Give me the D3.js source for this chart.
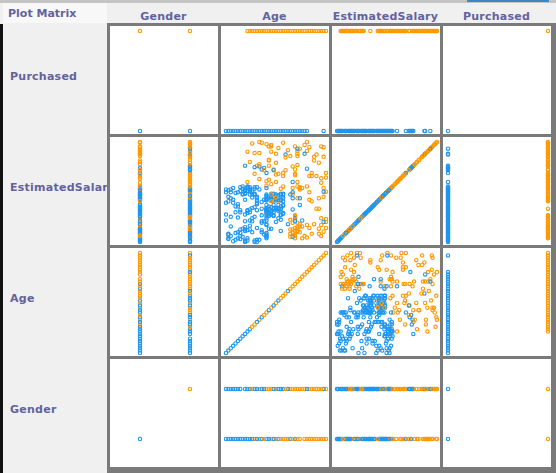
<!DOCTYPE html>
<html><head><meta charset="utf-8">
<script src="https://cdn.jsdelivr.net/npm/d3@7"></script>
<style>html,body{margin:0;padding:0;background:#f0f0f0;overflow:hidden}svg{display:block}</style>
</head><body><div id="chart"></div>
<script>
const columnNames=["Gender","Age","EstimatedSalary","Purchased"];
const rowNames=["Purchased","EstimatedSalary","Age","Gender"];
const genderLevels=["Male","Female"];
const gender=[
0,0,1,1,0,0,1,1,0,1,1,1,0,0,0,0,0,0,0,1,0,1,0,1,0,0,0,1,0,0,0,1,1,1,0,0,1,0,1,1,
1,1,0,0,1,0,0,1,0,1,1,1,1,1,1,1,1,0,0,1,0,0,1,0,1,1,0,1,1,1,0,1,1,1,0,0,0,1,1,1,
0,0,0,0,1,1,0,1,0,0,0,1,0,1,1,1,1,0,0,1,0,0,1,1,1,0,1,0,0,1,1,1,0,0,0,0,0,0,0,0,
1,0,1,0,1,1,0,0,0,1,0,0,0,1,1,0,1,0,1,0,0,1,0,0,1,1,1,1,0,0,1,1,0,0,1,0,0,1,0,1,
0,0,1,0,1,1,1,1,1,1,0,0,1,1,1,1,1,0,0,1,0,1,1,0,1,0,1,1,0,0,1,0,0,0,0,1,1,1,1,0,
0,0,1,0,1,1,1,1,1,1,1,0,1,0,0,1,0,0,1,0,1,0,0,0,1,0,1,0,0,1,1,0,0,0,1,0,0,1,1,1,
0,0,1,1,1,1,1,1,0,1,1,1,0,1,1,0,1,1,0,1,1,1,0,1,1,1,0,0,0,1,1,0,0,0,1,0,0,1,0,1,
1,1,0,0,1,1,0,0,1,1,0,0,0,1,1,0,0,0,0,1,0,1,0,1,1,1,0,0,0,0,0,1,1,0,1,1,0,1,1,0,
1,1,0,1,0,1,1,0,1,1,1,1,0,1,0,0,0,1,1,1,1,1,0,1,1,1,0,1,0,1,0,1,0,0,1,1,1,1,0,0,
1,0,1,1,1,0,1,1,0,1,0,0,0,1,0,1,1,0,0,1,1,1,0,1,0,1,1,0,0,1,1,1,0,0,1,1,0,1,0,1,
0,0,1,1,1,0,0,1,1,1,1,1,0,0,1,1,0,1,1,1,0,1,0,1,0,1,1,1,0,1,0,0,0,0,0,1,1,0,1,0,1];
const age=[
19,35,26,27,19,27,27,32,25,35,26,26,20,32,18,29,47,45,46,48,45,47,48,45,46,47,49,47,29,31,31,27,21,28,27,35,33,30,26,27,
27,33,35,30,28,23,25,27,30,31,24,18,29,35,27,24,23,28,22,32,27,25,23,32,59,24,24,23,22,31,25,24,20,33,32,34,18,22,28,26,
30,39,20,35,30,31,24,28,26,35,22,30,26,29,29,35,35,28,35,28,27,28,32,33,19,21,26,27,26,38,39,37,38,37,42,40,35,36,40,41,
36,37,40,35,41,39,42,26,30,26,31,33,30,21,28,23,20,30,28,19,19,18,35,30,34,24,27,41,29,20,26,41,31,36,40,31,46,29,26,32,
32,25,37,35,33,18,22,35,29,29,21,34,26,34,34,23,35,25,24,31,26,31,32,33,33,31,20,33,35,28,24,19,29,19,28,34,30,20,26,35,
35,49,39,41,58,47,55,52,40,46,48,52,59,35,47,60,49,40,46,59,41,35,37,60,35,37,36,56,40,42,35,39,40,49,38,46,40,37,46,53,
42,38,50,56,41,51,35,57,41,35,44,37,48,37,50,52,41,40,58,45,35,36,55,35,48,42,40,37,47,40,43,59,60,39,57,57,38,49,52,50,
59,35,37,52,48,37,37,48,41,37,39,49,55,37,35,36,42,43,45,46,58,48,37,37,40,42,51,47,36,38,42,39,38,49,39,39,54,35,45,36,
52,53,41,48,48,41,41,42,36,47,38,48,42,40,57,36,58,35,38,39,53,35,38,47,47,41,53,54,39,38,38,37,42,37,36,60,54,41,40,42,
43,53,47,42,42,59,58,46,38,54,60,60,39,59,37,46,46,42,41,58,42,48,44,49,57,56,49,39,47,48,48,47,45,60,39,46,51,50,36,49];
const salary=[
19000,20000,43000,57000,76000,58000,84000,150000,33000,65000,80000,52000,86000,18000,82000,80000,25000,26000,28000,29000,22000,49000,41000,22000,23000,20000,28000,30000,43000,18000,74000,137000,16000,44000,90000,27000,28000,49000,72000,31000,
17000,51000,108000,15000,84000,20000,79000,54000,135000,89000,32000,44000,83000,23000,58000,55000,48000,79000,18000,117000,20000,87000,66000,120000,83000,58000,19000,82000,63000,68000,80000,27000,23000,113000,18000,112000,52000,27000,87000,17000,
80000,42000,49000,88000,62000,118000,55000,85000,81000,50000,81000,116000,15000,28000,83000,44000,25000,123000,73000,37000,88000,59000,86000,149000,21000,72000,35000,89000,86000,80000,71000,71000,61000,55000,80000,57000,75000,52000,59000,59000,
75000,72000,75000,53000,51000,61000,65000,32000,17000,84000,58000,31000,87000,68000,55000,63000,82000,107000,59000,25000,85000,68000,59000,89000,25000,89000,96000,30000,61000,74000,15000,45000,76000,50000,47000,15000,59000,75000,30000,135000,
100000,90000,33000,38000,69000,86000,55000,71000,148000,47000,88000,115000,118000,43000,72000,28000,47000,22000,23000,34000,16000,71000,117000,43000,60000,66000,82000,41000,72000,32000,84000,26000,43000,70000,89000,43000,79000,36000,80000,22000,
39000,74000,134000,71000,101000,47000,130000,114000,142000,22000,96000,150000,42000,58000,43000,108000,65000,78000,96000,143000,80000,91000,144000,102000,60000,53000,126000,133000,72000,80000,147000,42000,107000,86000,112000,79000,57000,80000,82000,143000,
149000,59000,88000,104000,72000,146000,50000,122000,52000,97000,39000,52000,134000,146000,44000,90000,72000,57000,95000,131000,77000,144000,125000,72000,90000,108000,75000,74000,144000,61000,133000,76000,42000,106000,26000,74000,71000,88000,38000,36000,
88000,61000,70000,21000,141000,93000,62000,138000,79000,78000,134000,89000,39000,77000,57000,63000,73000,112000,79000,117000,38000,74000,137000,79000,60000,54000,134000,113000,125000,50000,70000,96000,50000,141000,79000,75000,104000,55000,32000,60000,
138000,82000,52000,30000,131000,60000,72000,75000,118000,107000,51000,119000,65000,65000,60000,54000,144000,79000,55000,122000,104000,75000,65000,51000,105000,63000,72000,108000,77000,61000,113000,75000,90000,57000,99000,34000,70000,72000,71000,54000,
129000,34000,50000,79000,104000,29000,47000,88000,71000,26000,46000,83000,73000,130000,80000,32000,74000,53000,87000,23000,64000,33000,139000,28000,33000,60000,39000,71000,34000,35000,33000,23000,45000,42000,59000,41000,23000,20000,33000,36000];
const purchased=[
0,0,0,0,0,0,0,1,0,0,0,0,0,0,0,0,1,1,1,1,1,1,1,1,1,1,1,1,0,0,0,1,0,0,0,0,0,0,0,0,
0,0,0,0,0,0,0,0,1,0,0,0,0,0,0,0,0,0,0,0,0,0,0,1,0,0,0,0,0,0,0,0,0,0,0,1,0,0,0,0,
0,0,0,0,0,1,0,0,0,0,0,0,0,0,0,0,0,1,0,0,0,0,0,1,0,0,0,0,0,0,0,0,0,0,0,0,0,0,0,0,
0,0,0,0,0,0,0,0,0,0,0,0,0,0,0,0,0,1,0,0,0,0,0,0,0,0,1,0,0,0,0,0,0,0,0,0,0,0,0,1,
1,0,0,0,0,0,0,0,1,0,0,0,0,0,0,0,0,0,0,0,0,0,1,0,0,0,0,0,0,0,0,0,0,0,0,0,0,0,0,0,
0,0,1,0,1,0,1,0,1,0,1,1,0,0,0,1,0,0,0,1,0,1,1,1,0,0,1,1,0,1,1,0,1,1,0,1,0,0,0,1,
1,0,1,1,0,1,0,1,0,1,0,0,1,1,0,1,0,0,1,1,0,1,1,0,1,1,0,0,1,0,0,1,1,1,1,1,0,1,1,1,
1,0,1,1,0,1,0,1,0,1,1,1,1,0,0,0,1,1,0,1,1,1,1,1,0,0,0,1,1,0,0,1,0,1,0,1,1,0,1,0,
1,1,0,1,1,0,0,0,1,1,0,1,0,0,1,0,1,0,0,1,1,0,0,1,1,0,1,1,0,0,1,0,1,0,1,1,1,0,1,0,
1,1,1,0,1,1,1,1,0,1,1,1,0,1,0,1,0,0,1,1,0,1,1,1,1,1,1,0,1,1,1,1,1,1,0,1,1,1,0,1];

const W=556,H=473;
const cellW=108,cellH=108,gap=3,frameX=107,frameY=23;
const blue="#1e96f0",orange="#ff9800",frame="#7a7a7a",labelColor="#62629f";

const linear=(dom,a,b)=>d3.scaleLinear().domain(dom).range([a,b]);
const makeScale={
  Gender:(isY)=>d3.scalePoint().domain(isY?[...genderLevels].reverse():genderLevels).range([30,80]),
  Age:(isY)=>isY?linear([18,60],105,5):linear([18,60],5,105),
  EstimatedSalary:(isY)=>isY?linear([15000,150000],105,5):linear([15000,150000],5,105),
  Purchased:(isY)=>isY?linear([0,1],105,5):linear([0,1],5,105)
};
const rows=age.map((a,i)=>({i,Gender:genderLevels[gender[i]],Age:a,EstimatedSalary:salary[i],Purchased:purchased[i]}));
// paint order: most orange marks under the blue ones, a third over them, last two rows on top
const paintRank=d=>d.i>=398?3:(d.Purchased?(d.i%3===0?2:0):1);
const painted=d3.sort(rows,paintRank,d=>d.i);

const svg=d3.select("#chart").append("svg").attr("width",W).attr("height",H)
  .style("font-family","'DejaVu Sans',sans-serif");

svg.append("rect").attr("width",W).attr("height",H).attr("fill","#f0f0f0");
svg.append("rect").attr("x",0).attr("y",24).attr("width",3).attr("height",H-24).attr("fill","#111");
svg.append("rect").attr("x",3).attr("y",3).attr("width",104).attr("height",20).attr("fill","#f8f8f8");
svg.append("rect").attr("width",W).attr("height",3).attr("fill","#c4c4c4");
svg.append("rect").attr("x",467).attr("width",82).attr("height",2).attr("fill","#3d85c6");
svg.append("rect").attr("x",frameX).attr("y",frameY).attr("width",W-frameX).attr("height",H-frameY).attr("fill",frame);

const defs=svg.append("defs");
defs.append("clipPath").attr("id","leftClip").append("rect").attr("x",0).attr("y",0).attr("width",frameX).attr("height",H);

svg.append("text").text("Plot Matrix").attr("x",8).attr("y",17)
  .attr("font-size",11).attr("font-weight","bold").attr("fill",labelColor);

const colX=i=>frameX+gap+i*(cellW+gap);
const rowY=i=>frameY+gap+i*(cellH+gap);

svg.selectAll("text.col").data(columnNames).join("text").attr("class","col")
  .text(d=>d).attr("x",(d,i)=>colX(i)+cellW/2-0.5).attr("y",20).attr("text-anchor","middle")
  .attr("font-size",11).attr("font-weight","bold").attr("fill",labelColor).attr("letter-spacing",0.25);

svg.append("g").attr("clip-path","url(#leftClip)").selectAll("text").data(rowNames).join("text")
  .text(d=>d).attr("x",10).attr("y",(d,i)=>rowY(i)+cellH/2)
  .attr("font-size",11).attr("font-weight","bold").attr("fill",labelColor).attr("letter-spacing",0.25);

rowNames.forEach((rowName,r)=>{
  columnNames.forEach((colName,c)=>{
    const g=svg.append("g").attr("transform",`translate(${colX(c)},${rowY(r)})`);
    g.append("rect").attr("width",cellW).attr("height",cellH).attr("fill","#fff");
    const x=makeScale[colName](false),y=makeScale[rowName](true);
    // one ring per distinct position: the last painted, so stacked rings keep their hole
    const top=new Map();
    painted.forEach(d=>top.set(x(d[colName])+"|"+y(d[rowName]),d));
    g.selectAll("circle").data([...top.values()]).join("circle")
      .attr("cx",d=>x(d[colName])).attr("cy",d=>y(d[rowName]))
      .attr("r",1.7).attr("fill","none").attr("stroke-width",1.1)
      .attr("stroke",d=>d.Purchased?orange:blue);
  });
});
</script>
</body></html>
